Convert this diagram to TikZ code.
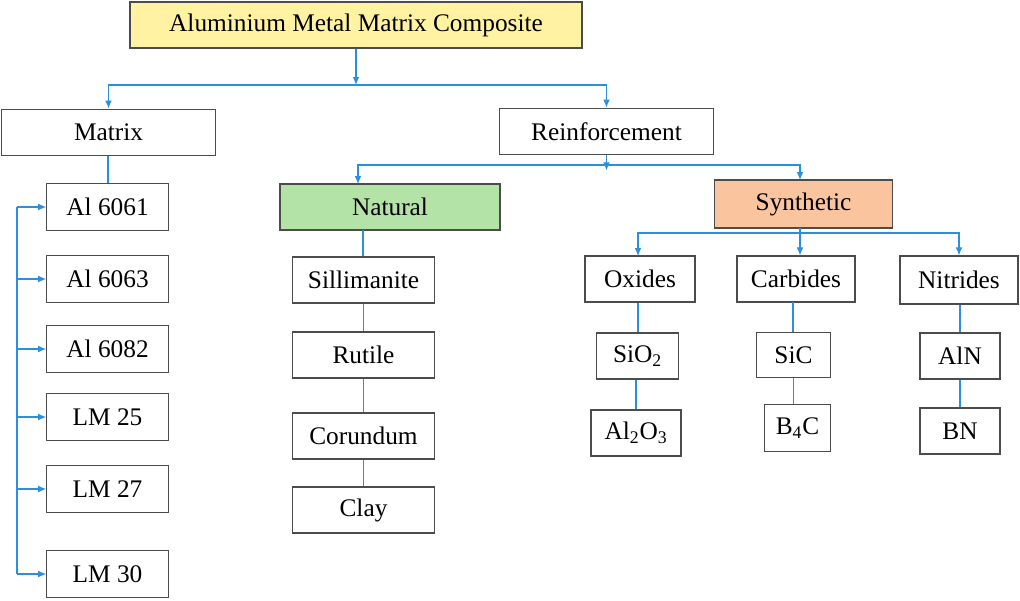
\documentclass[tikz,border=0pt]{standalone}
\usepackage{fontspec}
\setmainfont{Liberation Serif}
\usetikzlibrary{arrows.meta}
\definecolor{arr}{HTML}{2B8FE0}
\definecolor{yel}{HTML}{FFF2A3}
\definecolor{grn}{HTML}{B3E3A6}
\definecolor{org}{HTML}{FAC49E}
\begin{document}
\begin{tikzpicture}[x=0.75pt,y=-0.75pt,
  box/.style={draw=black!70,line width=0.9pt,fill=white,inner sep=0pt,font=\fontsize{19}{22}\selectfont},
  conn/.style={draw=arr,line width=0.8pt},
  ar/.style={conn,-{Latex[length=6pt,width=5pt]}}]
\useasboundingbox (0,0) rectangle (1020,600);
\node[box,fill=yel,minimum width=339pt,minimum height=34.5pt] (title) at (356,25) {Aluminium Metal Matrix Composite};
\node[box,minimum width=160pt,minimum height=35pt] (matrix) at (108.5,132.5) {Matrix};
\node[box,minimum width=160pt,minimum height=35pt] (reinf) at (606.5,131.5) {Reinforcement};
\node[box,fill=grn,minimum width=165pt,minimum height=34.5pt] (nat) at (390,207) {Natural};
\node[box,fill=org,minimum width=134pt,minimum height=36pt] (syn) at (803.5,204) {Synthetic};
\foreach \n/\t/\y in {a/Al 6061/207,b/Al 6063/279,c/Al 6082/349,d/LM 25/417,e/LM 27/489,f/LM 30/574}
  \node[box,minimum width=91pt,minimum height=35pt] (\n) at (107.5,\y) {\t};
\foreach \n/\t/\y in {s/Sillimanite/280,r/Rutile/355,co/Corundum/436,cl/Clay/510}
  \node[box,minimum width=107pt,minimum height=34.5pt] (\n) at (363.5,\y) {\t};
\node[box,minimum width=82.5pt,minimum height=34.5pt] (ox) at (640,279) {Oxides};
\node[box,minimum width=88.5pt,minimum height=34.5pt] (cb) at (796,279) {Carbides};
\node[box,minimum width=88.5pt,minimum height=36pt] (ni) at (959,280) {Nitrides};
\node[box,minimum width=61pt,minimum height=34.5pt] (sio) at (637.5,356) {SiO\textsubscript{2}};
\node[box,minimum width=67.5pt,minimum height=34.5pt] (alo) at (636,433) {Al\textsubscript{2}O\textsubscript{3}};
\node[box,minimum width=55pt,minimum height=34pt] (sic) at (793.5,355) {SiC};
\node[box,minimum width=49pt,minimum height=35pt] (bc) at (797.5,428) {B\textsubscript{4}C};
\node[box,minimum width=60pt,minimum height=34.5pt] (aln) at (960,356) {AlN};
\node[box,minimum width=60pt,minimum height=34.5pt] (bn) at (960,431) {BN};
% level 1
\coordinate (h1) at (0,85);
\draw[ar] (title.south) -- (title.south |- h1);
\draw[ar] (title.south |- h1) -| (matrix.north);
\draw[ar] (title.south |- h1) -| (reinf.north);
% reinforcement
\coordinate (h2) at (0,165);
\coordinate (nt) at (358,184);
\coordinate (st) at (800,180);
\draw[ar] (reinf.south) -- ++(0,15);
\draw[ar] (reinf.south |- h2) -| (nt);
\draw[ar] (reinf.south |- h2) -| (st);
% synthetic
\coordinate (h3) at (0,233);
\coordinate (sb) at (800,228);
\coordinate (oxt) at (638,256);
\draw[conn] (sb) -- (sb |- h3);
\draw[ar] (sb |- h3) -- (sb |- cb.north);
\draw[ar] (sb |- h3) -| (oxt);
\draw[ar] (sb |- h3) -| (ni.north);
% matrix column
\coordinate (ma) at (108,156);
\draw[conn] (ma) -- (ma |- a.north);
\coordinate (lb) at (17,207);
\draw[conn] (lb) -- (lb |- f.west);
\foreach \n in {a,b,c,d,e,f} \draw[ar] (lb |- \n.west) -- (\n.west);
% natural column
\coordinate (nc) at (363,230);
\draw[conn] (nc) -- (nc |- s.north);
\draw[conn] (s.south) -- (r.north);
\draw[conn] (r.south) -- (co.north);
\draw[conn] (co.south) -- (cl.north);
% synthetic columns
\draw[conn] (sio.north -| oxt) -- (ox.south -| oxt);
\draw[conn] (alo.north) -- (alo.north |- sio.south);
\coordinate (cc) at (793,302);
\draw[conn] (cc) -- (cc |- sic.north);
\draw[conn] (sic.south) -- (sic.south |- bc.north);
\draw[conn] (ni.south -| aln) -- (aln.north);
\draw[conn] (aln.south) -- (bn.north);
\end{tikzpicture}
\end{document}
